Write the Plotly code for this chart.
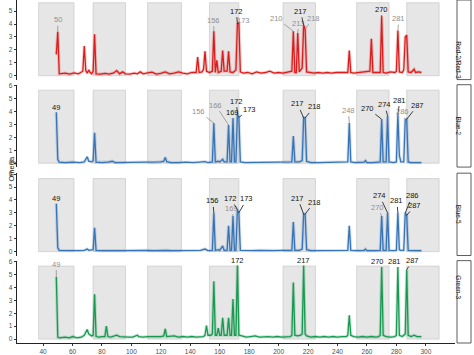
import plotly.graph_objects as go

# ---------------- DATA ----------------
panel_names = ["Red-2/Red-3", "Blue-2", "Blue-5", "Green-3"]

res_red = [49, 50, 51, 55, 58, 61, 64, 66, 67, 68, 69, 70, 71, 72, 73, 74, 75, 76, 79, 82, 85, 88, 90, 92, 94,
           96, 99, 102, 104, 106, 108, 111, 114, 117, 120, 123, 126, 129, 132, 135, 138, 141, 144, 145, 146,
           148, 149, 150, 151, 153, 155, 156, 157, 158, 159, 161, 162, 163, 165, 166, 167, 169, 171, 172, 173,
           174, 176, 179, 182, 185, 188, 191, 194, 197, 200, 203, 206, 209, 210, 211, 212, 213, 214, 216, 217,
           218, 219, 221, 224, 227, 230, 233, 236, 239, 242, 245, 247, 248, 249, 251, 254, 257, 260, 262, 263,
           264, 266, 269, 270, 271, 273, 276, 279, 280, 281, 282, 284, 285, 286, 287, 288, 290, 292, 293, 295, 297]
omega_red = [1.65, 3.4, 0.15, 0.2, 0.12, 0.22, 0.15, 0.25, 0.35, 2.3, 0.4, 0.2, 0.45, 0.25, 0.15, 0.35, 3.2, 0.15, 0.12,
             0.18, 0.12, 0.22, 0.4, 0.15, 0.3, 0.15, 0.12, 0.2, 0.15, 0.3, 0.15, 0.22, 0.28, 0.12, 0.18, 0.3, 0.15,
             0.2, 0.3, 0.2, 0.15, 0.25, 0.25, 1.45, 0.25, 0.3, 0.5, 1.9, 0.35, 0.25, 0.35, 3.45, 0.25, 1.2, 0.25, 0.35,
             1.95, 0.35, 0.35, 1.9, 0.3, 0.25, 0.45, 4.0, 4.15, 0.3, 0.2, 0.25, 0.15, 0.3, 0.2, 0.25, 0.35, 0.2, 0.25,
             0.2, 0.3, 0.35, 3.45, 0.25, 0.25, 3.3, 0.3, 0.6, 3.9, 3.6, 0.3, 0.25, 0.2, 0.25, 0.2, 0.25, 0.2, 0.25,
             0.25, 0.3, 0.25, 1.95, 0.25, 0.2, 0.25, 0.25, 0.3, 0.35, 2.85, 0.25, 0.25, 0.25, 4.6, 0.25, 0.2, 0.3,
             0.25, 0.35, 3.5, 0.3, 0.25, 0.45, 3.0, 3.15, 0.3, 0.25, 0.5, 0.25, 0.3, 0.25]

res_blue2 = [49, 50, 51, 55, 60, 65, 68, 70, 71, 73, 74, 75, 76, 80, 84, 87, 89, 95, 100, 105, 110, 115, 120, 122,
             123, 124, 127, 132, 137, 142, 147, 150, 152, 155, 156, 157, 159, 160, 162, 163, 165, 166, 167, 168,
             169, 170, 171, 172, 173, 174, 177, 182, 187, 192, 197, 202, 207, 209, 210, 211, 214, 216, 217, 218,
             219, 222, 227, 232, 237, 242, 246, 247, 248, 249, 252, 256, 258, 259, 260, 264, 268, 269, 270, 271,
             272, 273, 274, 275, 278, 280, 281, 282, 283, 284, 285, 286, 287, 288, 290, 294, 297]
omega_blue2 = [3.93, 0.3, 0.08, 0.05, 0.08, 0.05, 0.1, 0.5, 0.15, 0.1, 0.2, 2.35, 0.08, 0.05, 0.08, 0.15, 0.05, 0.05,
               0.08, 0.05, 0.08, 0.05, 0.1, 0.15, 0.45, 0.12, 0.05, 0.05, 0.08, 0.05, 0.08, 0.12, 0.05, 0.1, 3.1,
               0.1, 0.15, 0.1, 0.3, 0.1, 0.1, 2.95, 0.1, 0.1, 3.5, 0.1, 0.1, 3.8, 3.55, 0.1, 0.05, 0.05, 0.08, 0.05,
               0.05, 0.08, 0.05, 0.1, 2.1, 0.1, 0.1, 0.2, 3.5, 3.5, 0.15, 0.05, 0.05, 0.05, 0.05, 0.05, 0.05, 0.1,
               3.1, 0.1, 0.05, 0.05, 0.08, 0.2, 0.05, 0.05, 0.05, 0.1, 3.4, 0.1, 0.1, 0.1, 3.67, 0.1, 0.05, 0.1, 3.8,
               0.6, 0.1, 0.1, 0.1, 3.36, 3.4, 0.1, 0.05, 0.05, 0.05]

res_blue5 = [49, 50, 51, 55, 60, 65, 68, 70, 71, 73, 74, 75, 76, 80, 84, 87, 89, 95, 100, 105, 110, 115, 120, 122,
             123, 124, 127, 132, 137, 142, 147, 150, 152, 155, 156, 157, 159, 160, 162, 163, 165, 166, 167, 168,
             169, 170, 171, 172, 173, 174, 177, 182, 187, 192, 197, 202, 207, 209, 210, 211, 214, 216, 217, 218,
             219, 222, 227, 232, 237, 242, 246, 247, 248, 249, 252, 256, 258, 259, 260, 264, 268, 269, 270, 271,
             272, 273, 274, 275, 278, 280, 281, 282, 283, 284, 285, 286, 287, 288, 290, 294, 297]
omega_blue5 = [3.7, 0.3, 0.1, 0.08, 0.1, 0.08, 0.1, 0.2, 0.1, 0.1, 0.15, 1.85, 0.1, 0.08, 0.1, 0.12, 0.08, 0.08,
               0.1, 0.08, 0.1, 0.08, 0.1, 0.1, 0.15, 0.1, 0.08, 0.08, 0.1, 0.08, 0.1, 0.2, 0.08, 0.1, 3.0, 0.1, 0.15,
               0.1, 0.45, 0.1, 0.1, 2.0, 0.1, 0.1, 2.75, 0.1, 0.1, 3.26, 3.0, 0.1, 0.08, 0.08, 0.1, 0.08, 0.08, 0.1,
               0.08, 0.1, 2.3, 0.1, 0.1, 0.2, 2.9, 2.9, 0.15, 0.08, 0.08, 0.08, 0.08, 0.08, 0.08, 0.1, 2.0, 0.1,
               0.08, 0.08, 0.1, 0.2, 0.08, 0.08, 0.08, 0.1, 2.75, 0.1, 0.1, 0.1, 3.0, 0.1, 0.08, 0.1, 3.0, 0.15, 0.1,
               0.1, 0.1, 3.0, 2.8, 0.1, 0.08, 0.08, 0.08]

res_green = [49, 50, 51, 55, 58, 60, 63, 66, 68, 70, 71, 72, 73, 74, 75, 76, 78, 80, 82, 83, 84, 86, 88, 90, 92,
             95, 98, 101, 104, 105, 108, 111, 114, 117, 120, 122, 123, 124, 126, 129, 132, 135, 138, 141, 144,
             147, 149, 150, 151, 152, 154, 155, 156, 157, 158, 159, 160, 161, 162, 163, 165, 166, 167, 168, 169,
             170, 171, 172, 173, 175, 178, 181, 184, 187, 190, 193, 196, 199, 202, 205, 208, 209, 210, 211, 213,
             215, 216, 217, 218, 219, 222, 225, 228, 231, 234, 237, 240, 243, 246, 247, 248, 249, 251, 254, 257,
             260, 263, 266, 268, 269, 270, 271, 273, 276, 279, 280, 281, 282, 284, 285, 286, 287, 288, 290, 292,
             294, 297]
omega_green = [4.8, 0.15, 0.1, 0.15, 0.1, 0.2, 0.1, 0.15, 0.3, 0.75, 0.4, 0.3, 0.25, 0.3, 3.47, 0.2, 0.15, 0.2, 0.2,
               1.0, 0.2, 0.15, 0.2, 0.3, 0.2, 0.15, 0.15, 0.15, 0.3, 0.2, 0.15, 0.2, 0.2, 0.15, 0.2, 0.25, 0.8, 0.2,
               0.2, 0.25, 0.15, 0.2, 0.15, 0.2, 0.15, 0.2, 0.2, 0.3, 1.05, 0.3, 0.3, 0.4, 4.48, 0.3, 0.3, 0.85, 0.3,
               0.3, 1.65, 0.3, 0.3, 1.65, 0.3, 0.3, 3.1, 0.3, 0.3, 5.7, 0.3, 0.25, 0.15, 0.2, 0.25, 0.15, 0.2, 0.2,
               0.15, 0.2, 0.15, 0.2, 0.2, 0.3, 4.38, 0.3, 0.25, 0.3, 0.4, 5.7, 0.4, 0.25, 0.15, 0.2, 0.15, 0.2, 0.15,
               0.2, 0.15, 0.2, 0.2, 0.3, 1.85, 0.3, 0.2, 0.15, 0.2, 0.15, 0.2, 0.15, 0.2, 0.3, 5.57, 0.3, 0.2, 0.15,
               0.2, 0.3, 5.57, 0.3, 0.2, 0.3, 0.4, 5.37, 0.3, 0.2, 0.3, 0.2, 0.2]

# transmembrane helix regions (shaded)
tm_start = [37, 74, 111, 153, 203, 253, 287]
tm_end = [61, 96, 134, 173, 225, 275, 309]
tm_top = 5.65

# labelled sites per panel and whether the label is emphasised (1) or grey (0)
sites_red = [50, 156, 172, 173, 210, 213, 217, 218, 270, 281]
strong_red = [0, 0, 1, 0, 0, 0, 1, 0, 1, 0]
sites_blue2 = [49, 156, 166, 169, 172, 173, 217, 218, 248, 270, 274, 281, 286, 287]
strong_blue2 = [1, 0, 0, 1, 1, 1, 1, 1, 0, 1, 1, 1, 0, 1]
sites_blue5 = [49, 156, 169, 172, 173, 217, 218, 270, 274, 281, 286, 287]
strong_blue5 = [1, 1, 0, 1, 1, 1, 1, 0, 1, 1, 1, 1]
sites_green = [49, 172, 217, 270, 281, 287]
strong_green = [0, 1, 1, 1, 1, 1]

x_ticks = [40, 60, 80, 100, 120, 140, 160, 180, 200, 220, 240, 260, 280, 300]
y_ticks = [0, 1, 2, 3, 4, 5, 6]

# ---------------- STYLE ----------------
series = [
    (res_red, omega_red, sites_red, strong_red, "#dc1c1c"),
    (res_blue2, omega_blue2, sites_blue2, strong_blue2, "#3674b5"),
    (res_blue5, omega_blue5, sites_blue5, strong_blue5, "#3674b5"),
    (res_green, omega_green, sites_green, strong_green, "#179a50"),
]
halo = ["rgba(220,28,28,0.22)", "rgba(54,116,181,0.22)", "rgba(54,116,181,0.22)", "rgba(23,154,80,0.22)"]

# label offsets in pixels (text centre relative to point)
label_offsets = [
    {50: (0, -12), 156: (0, -11), 172: (-1, -13), 173: (5, -2), 210: (-17, -13), 213: (1, -10),
     217: (-3, -14), 218: (8, -11), 270: (0, -7), 281: (1, -12)},
    {49: (0, -5), 156: (-15, -12), 166: (-13, -20), 169: (0, -5), 172: (-1, -13), 173: (11, -8),
     217: (-6, -14), 218: (9, -11), 248: (-1, -13), 270: (-14, -11), 274: (-3, -11), 281: (2, -14),
     286: (-3, -8), 287: (11, -14)},
    {49: (0, -5), 156: (-1, -12), 169: (-1, -8), 172: (-7, -11), 173: (8, -14), 217: (-6, -16),
     218: (9, -12), 270: (-4, -9), 274: (-8, -17), 281: (-1, -12), 286: (7, -17), 287: (8, -10)},
    {49: (0, -13), 172: (0, -5), 217: (0, -5), 270: (-4, -6), 281: (-3, -6), 287: (6, -9)},
]

W, H = 474, 355
ML, MR, MT, MB = 17, 19, 0, 12
plot_h = H - MT - MB
plot_w = W - ML - MR
# panel pixel extents (top, bottom) in a 349-px-tall layout, scaled to the plot height
panel_px_ref = [(0, 81), (86.2, 170), (176.2, 260), (265.2, 349)]
scale = plot_h / 349.0
panel_px = [(a * scale, b * scale) for a, b in panel_px_ref]
y_ranges = [[-0.3, 5.86], [-0.3, 6.07], [-0.3, 6.07], [-0.3, 6.07]]

fig = go.Figure()
font_family = "Liberation Sans, Arial, sans-serif"

for i, (xs, ys, sites, strong, col) in enumerate(series):
    yref = "y" if i == 0 else f"y{i+1}"
    for s, e in zip(tm_start, tm_end):
        fig.add_shape(type="rect", xref="x", yref=yref, x0=s, x1=e, y0=0, y1=tm_top,
                      fillcolor="#e6e6e6", line=dict(color="#c9c9c9", width=0.7), layer="below")
    fig.add_trace(go.Scatter(x=xs, y=ys, mode="lines", xaxis="x", yaxis=yref,
                             line=dict(color=halo[i], width=3.2), hoverinfo="skip", showlegend=False))
    fig.add_trace(go.Scatter(x=xs, y=ys, mode="lines", xaxis="x", yaxis=yref,
                             line=dict(color=col, width=1.3), showlegend=False))
    lookup = dict(zip(xs, ys))
    for site, st in zip(sites, strong):
        ax, ay = label_offsets[i][site]
        tcol = "#111111" if st else "#8f8f8f"
        fig.add_annotation(x=site, y=lookup[site], xref="x", yref=yref, text=str(site),
                           showarrow=True, arrowhead=0, arrowwidth=0.8, arrowcolor=tcol,
                           ax=ax, ay=ay, standoff=0,
                           font=dict(size=7.5, color=tcol, family=font_family))
    # strip on the right
    top, bot = panel_px[i]
    yt = 1 - top / plot_h
    yb = 1 - bot / plot_h
    x0 = (457 - ML) / plot_w
    x1 = (471 - ML) / plot_w
    fig.add_shape(type="rect", xref="paper", yref="paper", x0=x0, x1=x1, y0=yb, y1=yt,
                  fillcolor="white", line=dict(color="#333333", width=0.8))
    fig.add_annotation(xref="paper", yref="paper", x=(x0 + x1) / 2, y=(yt + yb) / 2,
                       text=panel_names[i], showarrow=False, textangle=90,
                       font=dict(size=6.5, color="#1a1a1a", family=font_family))
    ax_def = dict(domain=[yb, yt], range=y_ranges[i], anchor="x", tickmode="array", tickvals=y_ticks,
                  showline=True, linecolor="#222222", linewidth=0.8, ticks="outside", ticklen=2.5,
                  tickcolor="#333333", tickwidth=0.7, showgrid=False, zeroline=False, automargin=False,
                  tickfont=dict(size=6.5, color="#4d4d4d", family=font_family))
    if i == 0:
        fig.update_layout(yaxis=ax_def)
    else:
        fig.update_layout(**{f"yaxis{i+1}": ax_def})

fig.add_annotation(xref="paper", yref="paper", x=(5 - ML) / plot_w, y=1 - 172 * scale / plot_h,
                   text="Omega", showarrow=False, textangle=-90,
                   font=dict(size=7.5, color="#1a1a1a", family=font_family))

fig.update_layout(
    width=W, height=H,
    margin=dict(l=ML, r=MR, t=MT, b=MB, autoexpand=False),
    paper_bgcolor="white", plot_bgcolor="white",
    xaxis=dict(range=[22.3, 319.8], anchor="y4", tickmode="array", tickvals=x_ticks,
               showline=True, linecolor="#222222", linewidth=0.8, ticks="outside", ticklen=2.5,
               tickcolor="#333333", tickwidth=0.7, showgrid=False, zeroline=False, automargin=False,
               tickfont=dict(size=6.5, color="#4d4d4d", family=font_family)),
    showlegend=False,
)

fig.write_html("out.html", config={"displayModeBar": False},
               post_script="document.body.style.margin='0';document.body.style.padding='0';document.body.style.overflow='hidden';")
